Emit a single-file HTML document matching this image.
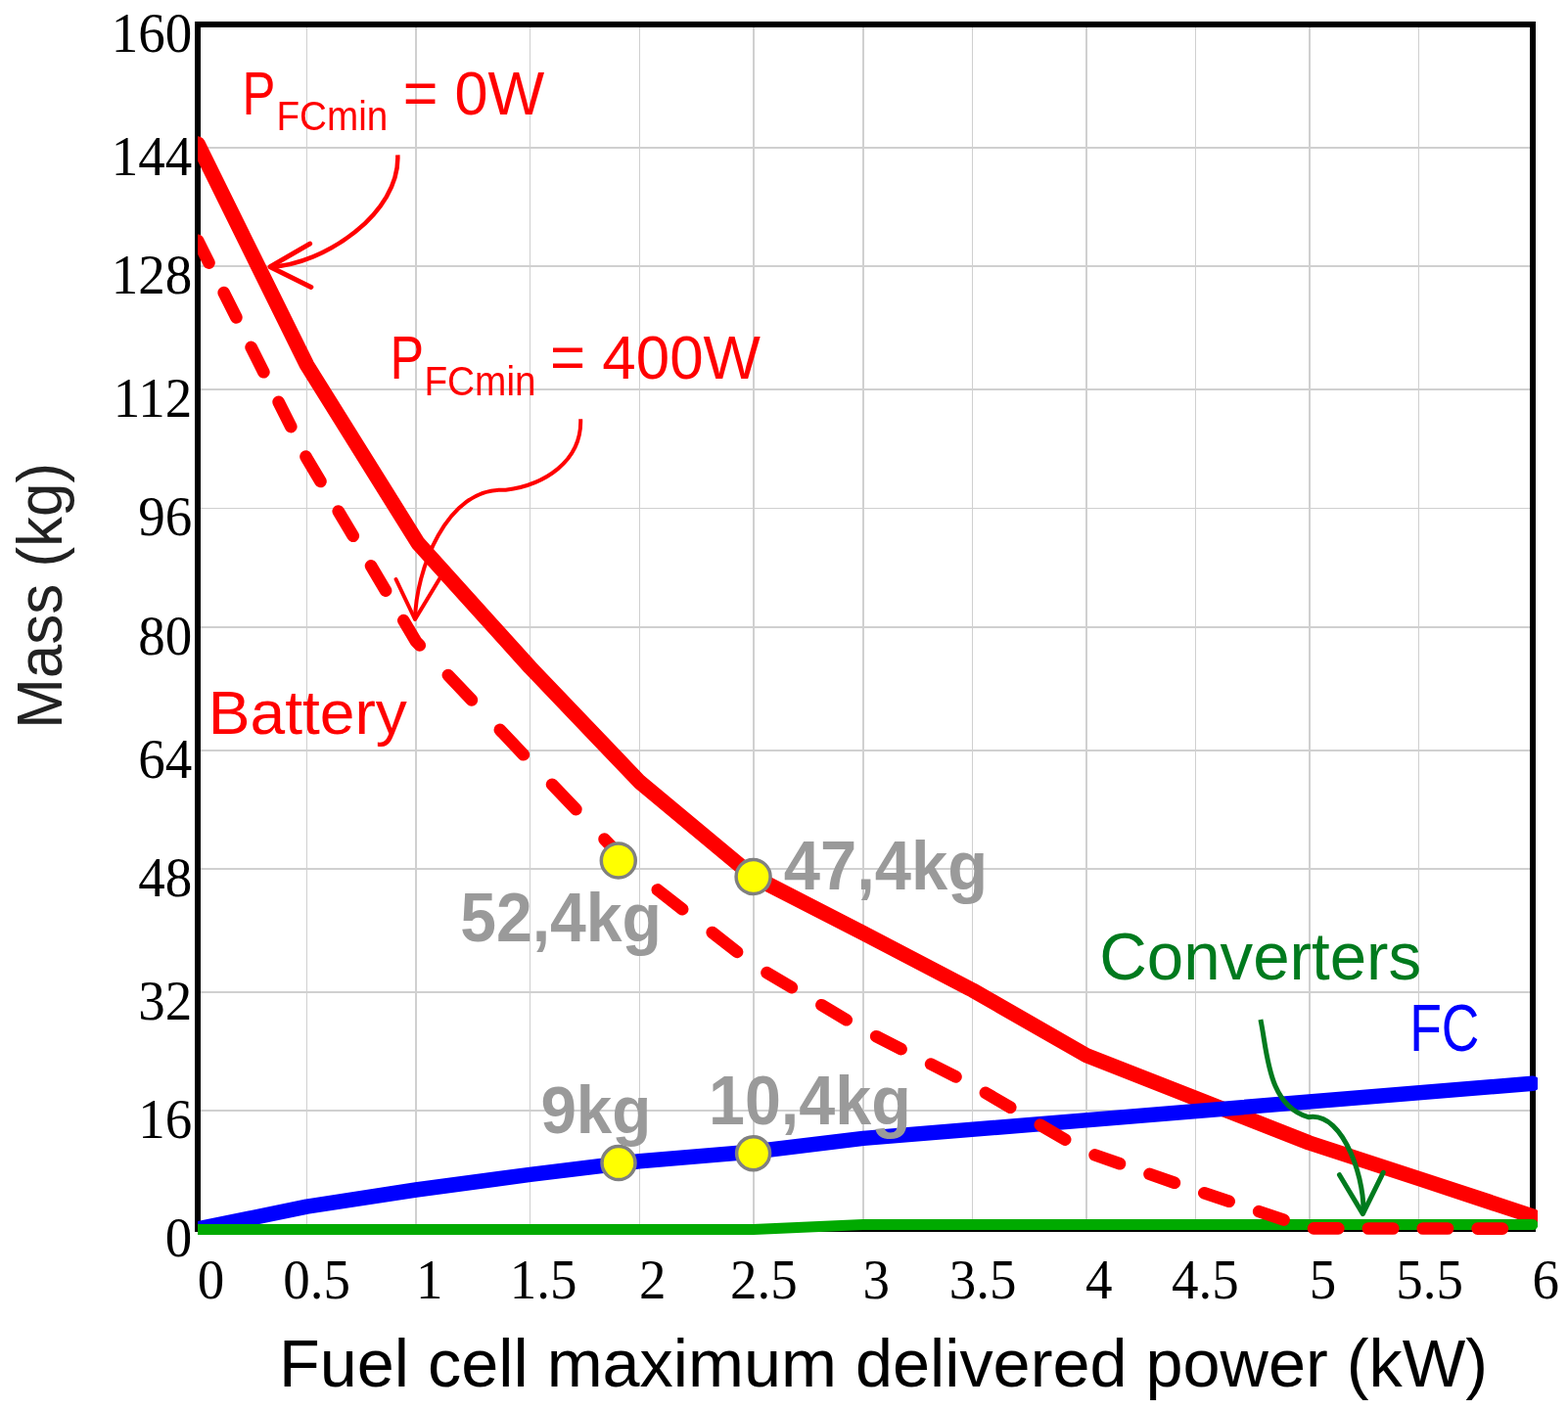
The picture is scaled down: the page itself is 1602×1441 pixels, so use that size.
<!DOCTYPE html><html><head><meta charset="utf-8"><title>Mass vs fuel cell power</title>
<style>html,body{margin:0;padding:0;background:#fff;}svg{display:block;}.t{font-family:"Liberation Serif","Times New Roman",serif;font-size:57.3px;fill:#000;}.s{font-family:"Liberation Sans",Arial,sans-serif;}</style></head><body>
<svg width="1602" height="1441" viewBox="0 0 1602 1441">
<rect width="1602" height="1441" fill="#fff"/>
<path d="M313 25h1V1256h-1ZM424 25h2V1256h-2ZM541 25h1V1256h-1ZM653 25h1V1256h-1ZM769 25h2V1256h-2ZM881 25h2V1256h-2ZM993 25h1V1256h-1ZM1109 25h2V1256h-2ZM1221 25h1V1256h-1ZM1337 25h2V1256h-2ZM1449 25h1V1256h-1ZM202 150H1566v2H202ZM202 271H1566v2H202ZM202 397H1566v2H202ZM202 519H1566v1H202ZM202 640H1566v2H202ZM202 766H1566v2H202ZM202 887H1566v2H202ZM202 1013H1566v2H202ZM202 1134H1566v2H202Z" fill="#d0d0d0" shape-rendering="crispEdges"/>
<rect x="202" y="25" width="1364" height="1231" fill="none" stroke="#000" stroke-width="6"/>
<defs><clipPath id="pc"><rect x="202" y="0" width="1369" height="1441"/></clipPath><clipPath id="pb"><rect x="202" y="0" width="1369" height="1262"/></clipPath></defs>
<g clip-path="url(#pc)" fill="none" stroke-linejoin="round">
<polyline points="202.0,147.0 313.5,373.0 427.0,555.0 541.6,682.0 653.4,799.0 769.8,896.0 882.0,953.6 993.8,1012.0 1110.0,1078.6 1221.7,1122.5 1337.7,1168.0 1449.5,1204.5 1566.0,1243.0" stroke="#ff0000" stroke-width="15.5" stroke-linecap="round"/>
<polyline points="202.0,1256.0 313.5,1233.1 425.0,1216.0 541.7,1200.4 653.4,1186.7 769.8,1177.0 882.0,1163.4 1566.0,1107.3" stroke="#0000ff" stroke-width="15.5" stroke-linecap="round" clip-path="url(#pb)"/>
<polyline points="202.0,1256.5 769.8,1256.5 882.0,1251.5 1566.0,1251.5" stroke="#00aa00" stroke-width="11" stroke-linecap="round"/>
<path d="M202.0 245.7L213.5 268.6M228.7 299.1L241.4 324.4M256.6 354.9L269.4 380.3M284.6 410.8L297.3 436.1M312.5 466.6L313.5 468.5L327.5 492.0M345.7 522.5L360.8 547.8M379.0 578.3L394.1 603.7M412.3 634.1L425.0 655.5L428.8 659.5M457.8 690.0L481.9 715.4M510.8 745.9L534.9 771.3M564.0 801.7L588.4 827.1M617.5 857.6L641.9 883.0M671.8 909.4L697.2 929.2M727.7 953.0L753.1 972.9M783.5 994.1L808.9 1009.2M839.4 1027.2L864.8 1042.3M895.2 1059.2L920.6 1072.1M951.1 1087.5L976.5 1100.4M1006.9 1116.9L1032.3 1131.8M1062.8 1149.7L1088.2 1164.6M1118.6 1180.4L1144.0 1189.3M1174.5 1199.9L1199.9 1208.8M1230.3 1219.3L1255.7 1227.8M1286.2 1238.1L1311.6 1246.6M1342.0 1255.4L1367.4 1255.4M1397.9 1255.5L1423.3 1255.5M1453.7 1255.5L1479.1 1255.5M1509.6 1255.6L1535.0 1255.6" stroke="#ff0000" stroke-width="12.6" stroke-linecap="round"/>
</g>
<circle cx="631.8" cy="879.5" r="17.5" fill="#ffff00" stroke="#808080" stroke-width="3.5"/>
<circle cx="769.6" cy="896" r="17.5" fill="#ffff00" stroke="#808080" stroke-width="3.5"/>
<circle cx="632" cy="1188.6" r="17" fill="#ffff00" stroke="#808080" stroke-width="3.5"/>
<circle cx="769.6" cy="1178.8" r="17" fill="#ffff00" stroke="#808080" stroke-width="3.5"/>
<g fill="none" stroke="#ff0000" stroke-linecap="round" stroke-linejoin="round">
<path d="M406.3 158.3 C409.1 217.9 331.0 270.6 275.9 272.7" stroke-width="4.5" stroke-linecap="butt"/>
<path d="M316.6 249.1 L276 272.7 L317.8 293.4" stroke-width="5"/>
<path d="M593.2 428.3 C594.7 472.1 555.3 495.8 516.6 500.8 C455.7 496.5 424.5 585.1 424.1 633.2" stroke-width="4" stroke-linecap="butt"/>
<path d="M404.5 592 L424 633 L450 590" stroke-width="4"/>
</g>
<g fill="none" stroke="#007a1e" stroke-linecap="round" stroke-linejoin="round">
<path d="M1287.9 1042.0 C1295.0 1075.3 1294.8 1129.5 1336.6 1141.7 C1374.9 1134.9 1396.3 1214.5 1392.4 1240.6" stroke-width="5" stroke-linecap="butt"/>
<path d="M1368.5 1200.7 L1392.4 1240.6 L1413.2 1198.3" stroke-width="5"/>
</g>
<text class="t" transform="translate(196.3,1283.8) scale(0.96,1)" text-anchor="end">0</text>
<text class="t" transform="translate(196.3,1162.8) scale(0.96,1)" text-anchor="end">16</text>
<text class="t" transform="translate(196.3,1041.5) scale(0.96,1)" text-anchor="end">32</text>
<text class="t" transform="translate(196.3,915.8) scale(0.96,1)" text-anchor="end">48</text>
<text class="t" transform="translate(196.3,794.5) scale(0.96,1)" text-anchor="end">64</text>
<text class="t" transform="translate(196.3,668.6) scale(0.96,1)" text-anchor="end">80</text>
<text class="t" transform="translate(196.3,547.1) scale(0.96,1)" text-anchor="end">96</text>
<text class="t" transform="translate(196.3,425.8) scale(0.96,1)" text-anchor="end">112</text>
<text class="t" transform="translate(196.3,299.7) scale(0.96,1)" text-anchor="end">128</text>
<text class="t" transform="translate(196.3,178.7) scale(0.96,1)" text-anchor="end">144</text>
<text class="t" transform="translate(196.3,52.8) scale(0.96,1)" text-anchor="end">160</text>
<text class="t" transform="translate(215.5,1326.6) scale(0.96,1)" text-anchor="middle">0</text>
<text class="t" transform="translate(323.7,1326.6) scale(0.96,1)" text-anchor="middle">0.5</text>
<text class="t" transform="translate(438.8,1326.6) scale(0.96,1)" text-anchor="middle">1</text>
<text class="t" transform="translate(555.2,1326.6) scale(0.96,1)" text-anchor="middle">1.5</text>
<text class="t" transform="translate(666.7,1326.6) scale(0.96,1)" text-anchor="middle">2</text>
<text class="t" transform="translate(780.4,1326.6) scale(0.96,1)" text-anchor="middle">2.5</text>
<text class="t" transform="translate(895.2,1326.6) scale(0.96,1)" text-anchor="middle">3</text>
<text class="t" transform="translate(1004.2,1326.6) scale(0.96,1)" text-anchor="middle">3.5</text>
<text class="t" transform="translate(1122.7,1326.6) scale(0.96,1)" text-anchor="middle">4</text>
<text class="t" transform="translate(1231.4,1326.6) scale(0.96,1)" text-anchor="middle">4.5</text>
<text class="t" transform="translate(1351.5,1326.6) scale(0.96,1)" text-anchor="middle">5</text>
<text class="t" transform="translate(1460.7,1326.6) scale(0.96,1)" text-anchor="middle">5.5</text>
<text class="t" transform="translate(1579.3,1326.6) scale(0.96,1)" text-anchor="middle">6</text>
<g class="s">
<text x="247.6" y="116.8" font-size="63.6" fill="#ff0000" textLength="33.9" lengthAdjust="spacingAndGlyphs">P</text>
<text x="282.5" y="132.8" font-size="41.7" fill="#ff0000" textLength="113.8" lengthAdjust="spacingAndGlyphs">FCmin</text>
<text x="411.8" y="116.8" font-size="63.3" fill="#ff0000" textLength="144.4" lengthAdjust="spacingAndGlyphs">= 0W</text>
<text x="398.6" y="386.8" font-size="63.6" fill="#ff0000" textLength="34.6" lengthAdjust="spacingAndGlyphs">P</text>
<text x="433.4" y="404.0" font-size="41.9" fill="#ff0000" textLength="114.2" lengthAdjust="spacingAndGlyphs">FCmin</text>
<text x="562.0" y="386.8" font-size="63.8" fill="#ff0000" textLength="215.0" lengthAdjust="spacingAndGlyphs">= 400W</text>
<text x="212.8" y="749.7" font-size="63.0" fill="#ff0000" textLength="203.1" lengthAdjust="spacingAndGlyphs">Battery</text>
<text x="470.2" y="962.0" font-size="69.6" font-weight="bold" fill="#9a9a9a" textLength="205.8" lengthAdjust="spacingAndGlyphs">52,4kg</text>
<text x="800.8" y="909.0" font-size="69.6" font-weight="bold" fill="#9a9a9a" textLength="208.4" lengthAdjust="spacingAndGlyphs">47,4kg</text>
<text x="552.4" y="1157.9" font-size="69.4" font-weight="bold" fill="#9a9a9a" textLength="113.0" lengthAdjust="spacingAndGlyphs">9kg</text>
<text x="724.0" y="1148.9" font-size="69.7" font-weight="bold" fill="#9a9a9a" textLength="206.7" lengthAdjust="spacingAndGlyphs">10,4kg</text>
<text x="1123.2" y="1000.7" font-size="68.9" fill="#007a1e" textLength="328.9" lengthAdjust="spacingAndGlyphs">Converters</text>
<text x="1440.2" y="1073.7" font-size="67.7" fill="#0000ff" textLength="71.3" lengthAdjust="spacingAndGlyphs">FC</text>
<text x="285.0" y="1416.9" font-size="69.0" fill="#000" textLength="1235.0" lengthAdjust="spacingAndGlyphs">Fuel cell maximum delivered power (kW)</text>
<g transform="translate(-436.9,839.8) rotate(-90)"><text x="95.0" y="500.0" font-size="65.4" fill="#222222" textLength="271.9" lengthAdjust="spacingAndGlyphs">Mass (kg)</text></g>
</g>
</svg></body></html>
